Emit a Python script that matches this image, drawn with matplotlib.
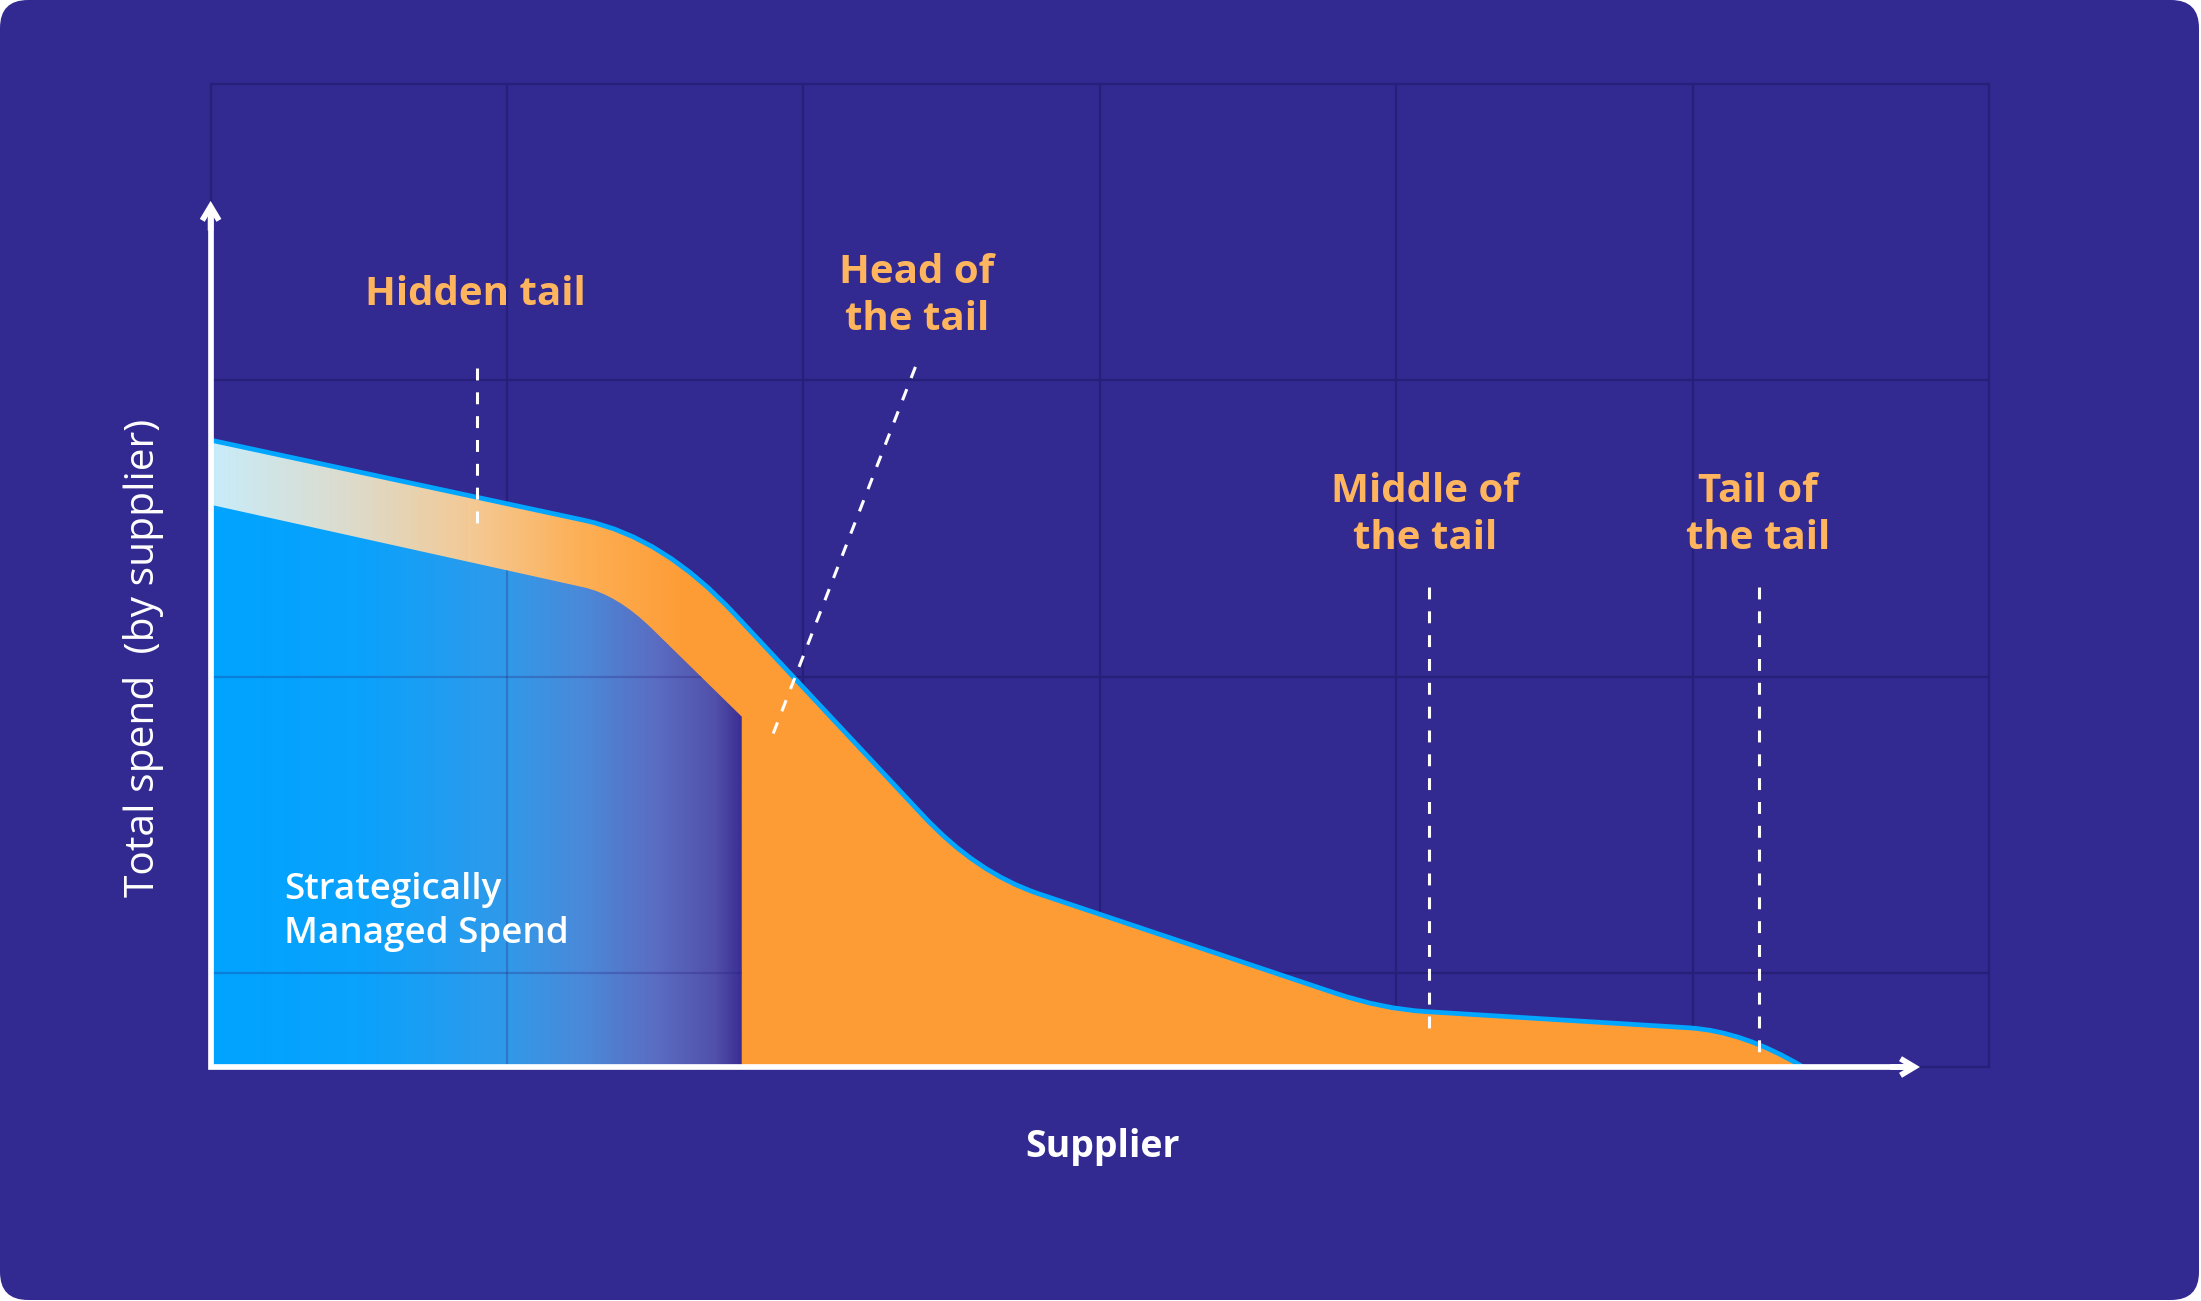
import numpy as np
import matplotlib
matplotlib.use("Agg")
import matplotlib.pyplot as plt
from matplotlib.patches import FancyBboxPatch, PathPatch
from matplotlib.path import Path
from matplotlib.colors import to_rgb
from matplotlib.collections import LineCollection

# ---------------- data ----------------
# Total spend curve: straight runs joined by rounded corners.
# Each "c" entry is the corner point where two straight runs meet (Bezier control).
supplier_total = [0.000, 1.263, 1.530, 1.769, 2.403, 2.583, 2.795, 3.795, 3.952, 4.099, 4.991, 5.172, 5.373]
spend_total    = [2.115, 1.844, 1.786, 1.527, 0.849, 0.655, 0.584, 0.249, 0.196, 0.187, 0.132, 0.120, 0.000]
total_kind     = ["p",   "p",   "c",   "p",   "p",   "c",   "p",   "p",   "c",   "p",   "p",   "c",   "p"]

# Strategically managed spend (blue area top edge)
supplier_managed = [0.000, 1.256, 1.372, 1.489, 1.792]
spend_managed    = [1.897, 1.619, 1.594, 1.479, 1.182]
managed_kind     = ["p",   "p",   "c",   "p",   "p"]
managed_cutoff = 1.792

# segment labels and leader lines
segment_labels = [["Hidden tail"], ["Head of", "the tail"],
                  ["Middle of", "the tail"], ["Tail of", "the tail"]]
label_x = [0.893, 2.383, 4.097, 5.220]
label_baseline = [2.571, 2.645, 1.907, 1.907]
leader_x0 = [0.900, 2.378, 4.109, 5.224]
leader_y0 = [2.358, 2.362, 1.621, 1.621]
leader_x1 = [0.900, 1.895, 4.109, 5.224]
leader_y1 = [1.834, 1.117, 0.119, 0.047]

area_label = ["Strategically", "Managed Spend"]
x_label = "Supplier"
y_label = "Total spend  (by supplier)"

x_max, y_max = 6, 3.3165
x_grid = [0, 1, 2, 3, 4, 5, 6]
y_grid = [0.3165, 1.3165, 2.3165]
x_arrow_tip, y_arrow_tip = 5.767, 2.922

# ---------------- style ----------------
BG = "#322a91"
GRID = "#271f78"
ORANGE_TXT = "#ffb55e"
LINE_BLUE = "#00a6ff"
FONT = ["Open Sans", "DejaVu Sans"]
band_stop_x = [0.0, 0.5, 0.9, 1.25, 1.6, 6.0]
band_colors = ["#c8ecfa", "#dedac8", "#f5c891", "#fdaf55", "#fd9c35", "#fd9c35"]
blue_stop_x = [0.0, 0.5, 1.0, 1.25, 1.5, 1.7, 1.792]
blue_colors = ["#00a4ff", "#0aa2fc", "#3199e9", "#4b89d9", "#5a6dc2", "#5150aa", "#3a2c93"]

W, H, DPI = 2201, 1301, 100
fig = plt.figure(figsize=(W / DPI, H / DPI), dpi=DPI)
fig.patch.set_facecolor("white")

# rounded background
axbg = fig.add_axes([0, 0, 1, 1])
axbg.set_xlim(0, W)
axbg.set_ylim(0, H)
axbg.axis("off")
axbg.add_patch(FancyBboxPatch((0, 1), W - 2, H - 1,
                              boxstyle="round,pad=0,rounding_size=28",
                              fc=BG, ec="none"))

# main axes (grid region)
L, R, T, B = 210.6, 1989.0, 84.0, 1067.0
ax = fig.add_axes([L / W, (H - B) / H, (R - L) / W, (B - T) / H])
ax.set_facecolor("none")
ax.set_xlim(0, x_max)
ax.set_ylim(0, y_max)
ax.set_xticks(x_grid)
ax.set_yticks(y_grid)
ax.tick_params(length=0, labelleft=False, labelbottom=False)
ax.grid(True, color=GRID, lw=1.6, zorder=0)
ax.set_axisbelow(True)
for s in ax.spines.values():
    s.set_color(GRID)
    s.set_linewidth(1.6)


def curve_path(xs, ys, kinds, close_to_base=False, base_x0=0.0):
    verts, codes = [], []
    for i, (x, y, k) in enumerate(zip(xs, ys, kinds)):
        verts.append((x, y))
        if i == 0:
            codes.append(Path.MOVETO)
        elif k == "c" or kinds[i - 1] == "c":
            codes.append(Path.CURVE3)
        else:
            codes.append(Path.LINETO)
    if close_to_base:
        verts += [(xs[-1], 0), (base_x0, 0), (xs[0], ys[0])]
        codes += [Path.LINETO, Path.LINETO, Path.CLOSEPOLY]
    return Path(verts, codes)


def gradient_image(stop_x, colors, x0, x1, n=1200):
    xs = np.linspace(x0, x1, n)
    rgb = np.array([to_rgb(c) for c in colors])
    img = np.zeros((2, n, 3))
    for k in range(3):
        img[:, :, k] = np.interp(xs, stop_x, rgb[:, k])
    return img


# orange / light band area under the total curve
total_area = PathPatch(curve_path(supplier_total, spend_total, total_kind, True),
                       fc="none", ec="none", transform=ax.transData)
ax.add_patch(total_area)
im1 = ax.imshow(gradient_image(band_stop_x, band_colors, 0, 5.5),
                extent=[0, 5.5, 0, 2.3], origin="lower", aspect="auto",
                interpolation="bilinear", zorder=1)
im1.set_clip_path(total_area)

# blue managed area
managed_area = PathPatch(curve_path(supplier_managed, spend_managed, managed_kind, True),
                         fc="none", ec="none", transform=ax.transData)
ax.add_patch(managed_area)
im2 = ax.imshow(gradient_image(blue_stop_x, blue_colors, 0, managed_cutoff),
                extent=[0, managed_cutoff, 0, 2.0], origin="lower", aspect="auto",
                interpolation="bilinear", zorder=2)
im2.set_clip_path(managed_area)

# faint grid visible through the blue area
segs = [[(x, 0), (x, y_max)] for x in x_grid] + [[(0, y), (x_max, y)] for y in y_grid]
lc = LineCollection(segs, colors=GRID, linewidths=1.6, alpha=0.28, zorder=2.5)
ax.add_collection(lc)
lc.set_clip_path(managed_area)

# total curve outline
ax.add_patch(PathPatch(curve_path(supplier_total, spend_total, total_kind),
                       fill=False, ec=LINE_BLUE, lw=3.4, capstyle="butt",
                       joinstyle="round", zorder=3))

# dashed leader lines
for xa, ya, xb, yb in zip(leader_x0, leader_y0, leader_x1, leader_y1):
    ax.plot([xa, xb], [ya, yb], color="white", lw=2.2, dashes=(3.9, 3.9),
            dash_capstyle="butt", zorder=4)

# axes with arrows
ax.plot([0, 0, x_arrow_tip - 0.02], [y_arrow_tip - 0.02, 0, 0], color="white", lw=4.1,
        solid_joinstyle="miter", solid_capstyle="butt", zorder=5, clip_on=False)
arrow_kw = dict(arrowstyle="->,head_length=1.0,head_width=0.6", color="white",
                lw=4.1, shrinkA=0, shrinkB=0, joinstyle="miter", capstyle="butt")
ax.annotate("", xy=(0, y_arrow_tip), xytext=(0, y_arrow_tip - 0.1),
            arrowprops=arrow_kw, zorder=5)
ax.annotate("", xy=(x_arrow_tip, 0), xytext=(x_arrow_tip - 0.1, 0),
            arrowprops=arrow_kw, zorder=5, annotation_clip=False)

# segment labels
for lines, lx, lb in zip(segment_labels, label_x, label_baseline):
    for i, line in enumerate(lines):
        ax.text(lx, lb - i * 0.16, line, ha="center", va="baseline",
                fontsize=29, fontweight="bold", family=FONT,
                color=ORANGE_TXT, zorder=6)

# area label
for i, line in enumerate(area_label):
    ax.text(0.2477, 0.5668 - i * 0.1468, line, ha="left", va="baseline",
            fontsize=26.5, fontweight="semibold", family=FONT, color="white", zorder=6)

# axis titles
ax.text(3.0093, -0.3026, x_label, ha="center", va="baseline", fontsize=27,
        fontweight="bold", family=FONT, color="white", clip_on=False)
ax.text(-0.191, 1.3816, y_label, ha="center", va="baseline", rotation=90,
        rotation_mode="anchor", fontsize=29.3, family=FONT, color="white",
        clip_on=False)

fig.savefig("out.png", dpi=DPI, facecolor=fig.get_facecolor())
